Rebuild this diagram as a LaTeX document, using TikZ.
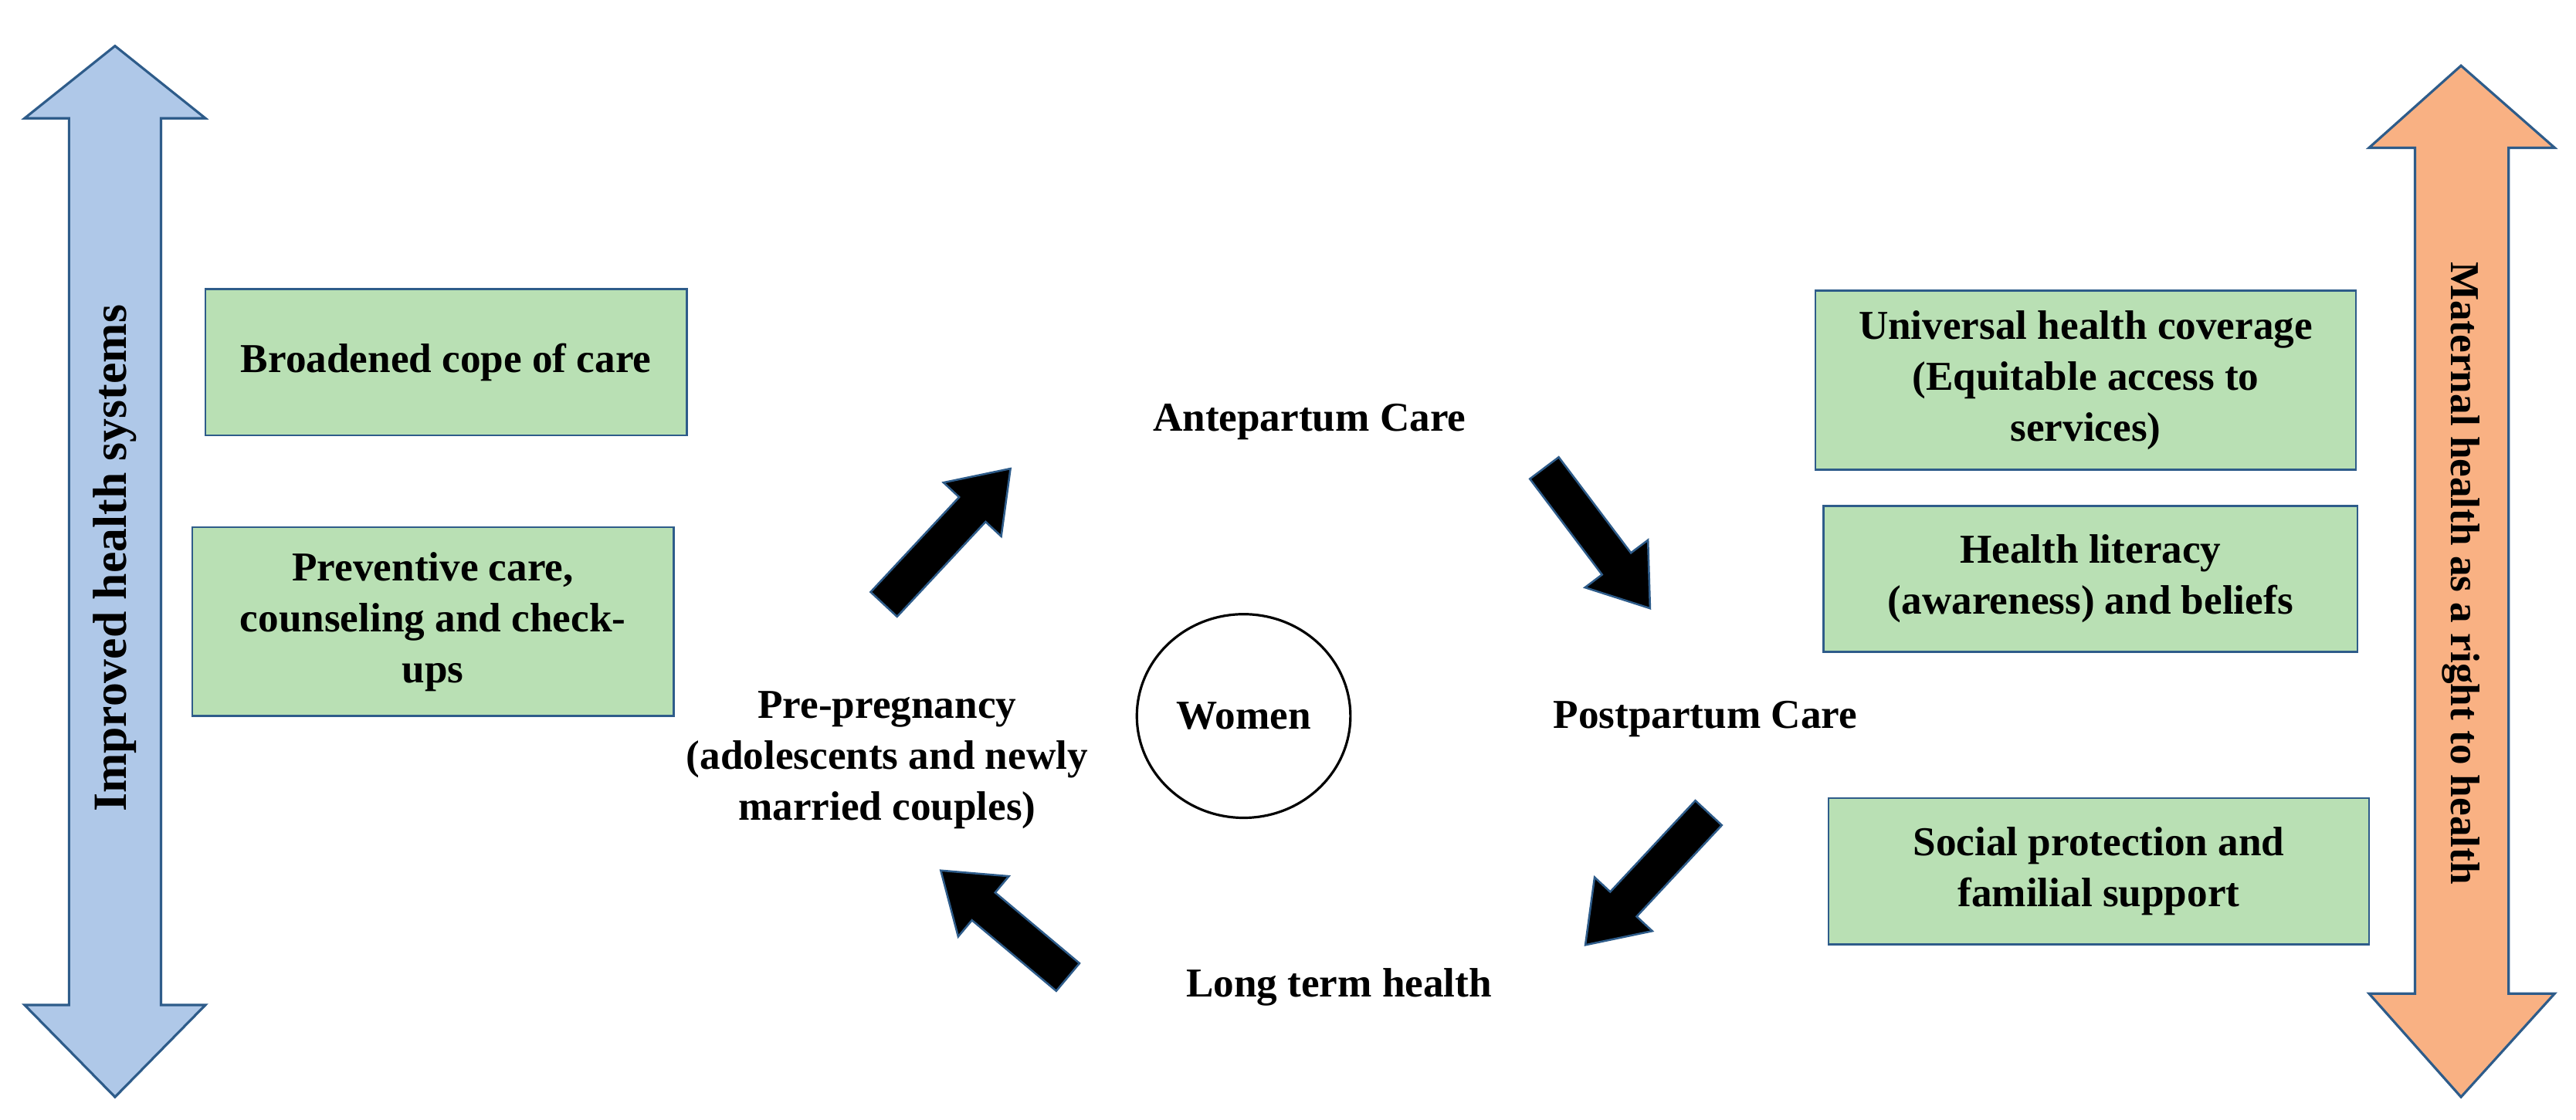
\documentclass[tikz,border=0pt]{standalone}
\usepackage{fontspec}
\setmainfont{Liberation Serif}
\begin{document}
\begin{tikzpicture}[x=1pt,y=1pt,
  gbox/.style={draw=edgeblue,line width=1.2pt,fill=boxgreen},
  lbl/.style={font=\fontsize{25}{31}\selectfont\bfseries,align=center},
  blk/.style={draw=edgeblue,line width=1.2pt,fill=black}]
\definecolor{edgeblue}{HTML}{2E5C8A}
\definecolor{boxgreen}{HTML}{B9E0B4}
\definecolor{lblue}{HTML}{AFC8E8}
\definecolor{lorange}{HTML}{F9B183}
\useasboundingbox (0,0) rectangle (1568,682);
% left double arrow
\draw[draw=edgeblue,line width=1.5pt,fill=lblue]
 (70,654)--(125,610)--(98,610)--(98,70)--(125,70)--(70,14)--(15,70)--(42,70)--(42,610)--(15,610)--cycle;
\node[lbl,font=\fontsize{29}{35}\selectfont\bfseries,rotate=90] (L) at (70,342) {Improved health systems};
% right double arrow
\draw[draw=edgeblue,line width=1.5pt,fill=lorange]
 (1498,642)--(1555,592)--(1527,592)--(1527,77)--(1555,77)--(1498,14)--(1442,77)--(1470,77)--(1470,592)--(1442,592)--cycle;
\node[lbl,rotate=-90] (R) at (1498,333) {Maternal health as a right to health};
% green boxes
\node[gbox,lbl,minimum width=293,minimum height=89] (b1) at (271.5,461.5) {Broadened cope of care};
\node[gbox,lbl,minimum width=293,minimum height=115,inner sep=2pt] (b2) at (263.5,303.5) {Preventive care,\\counseling and check-\\ups};
\node[gbox,lbl,minimum width=329,minimum height=109,inner sep=2pt] (b3) at (1269.5,450.5) {Universal health coverage\\(Equitable access to\\services)};
\node[gbox,lbl,minimum width=325,minimum height=89] (b4) at (1272.5,329.5) {Health literacy\\(awareness) and beliefs};
\node[gbox,lbl,minimum width=329,minimum height=89] (b5) at (1277.5,151.5) {Social protection and\\familial support};
% center
\draw[line width=1.5pt] (757,246) ellipse [x radius=65,y radius=62];
\node[lbl] (w) at (757,246) {Women};
\node[lbl] (ante) at (797,425) {Antepartum Care};
\node[lbl] (post) at (1038,244) {Postpartum Care};
\node[lbl] (long) at (815,81) {Long term health};
\node[lbl] (pre) at (540,219) {Pre-pregnancy\\(adolescents and newly\\married couples)};
% block arrows
\foreach \x/\y/\a/\l in {538/314/47/113, 940/397/-53/107, 1040/187/-133/110, 650/87/140/101}{
  \begin{scope}[shift={(\x,\y)},rotate=\a]
   \draw[blk] (0,-11)--(\l-34,-11)--(\l-34,-24)--(\l,0)--(\l-34,24)--(\l-34,11)--(0,11)--cycle;
  \end{scope}
}
\end{tikzpicture}
\end{document}
